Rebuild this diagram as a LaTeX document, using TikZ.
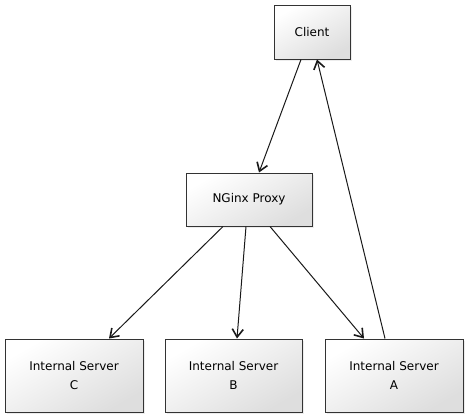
\documentclass[tikz,border=0pt]{standalone}
\usepackage{fontspec}
\setmainfont{DejaVu Sans}
\usetikzlibrary{arrows.meta,shadows}
\begin{document}
\begin{tikzpicture}[x=1pt,y=-1pt,
  box/.style={draw=black!80,line width=1pt,shading=axis,left color=white,right color=black!13,shading angle=30,
    drop shadow={opacity=0.15,shadow xshift=2pt,shadow yshift=-2pt},
    align=center,font=\fontsize{12}{18.5}\selectfont,inner sep=0pt},
  flow/.style={draw=black!90,line width=1pt,-{Straight Barb[length=8pt,width=11pt,line width=1.6pt]}}]
\useasboundingbox (0,0) rectangle (468,418);
% boxes
\node[box,minimum width=76pt,minimum height=54pt] (client) at (312,32) {Client};
\node[box,minimum width=126pt,minimum height=53pt] (proxy) at (249,199.5) {NGinx Proxy};
\node[box,minimum width=138pt,minimum height=73pt] (srvc) at (74,375.5) {Internal Server\\C};
\node[box,minimum width=137pt,minimum height=73pt] (srvb) at (233.5,375.5) {Internal Server\\B};
\node[box,minimum width=138pt,minimum height=73pt] (srva) at (394,375.5) {Internal Server\\A};
% connectors
\draw[flow] ([xshift=-11pt]client.south) -- ([xshift=10pt]proxy.north);
\draw[flow] ([xshift=-26pt]proxy.south) -- ([xshift=35pt]srvc.north);
\draw[flow] ([xshift=-3pt]proxy.south) -- ([xshift=3.5pt]srvb.north);
\draw[flow] ([xshift=21pt]proxy.south) -- ([xshift=-30pt]srva.north);
\draw[flow] ([xshift=-9pt]srva.north) -- ([xshift=5pt]client.south);
\end{tikzpicture}
\end{document}
